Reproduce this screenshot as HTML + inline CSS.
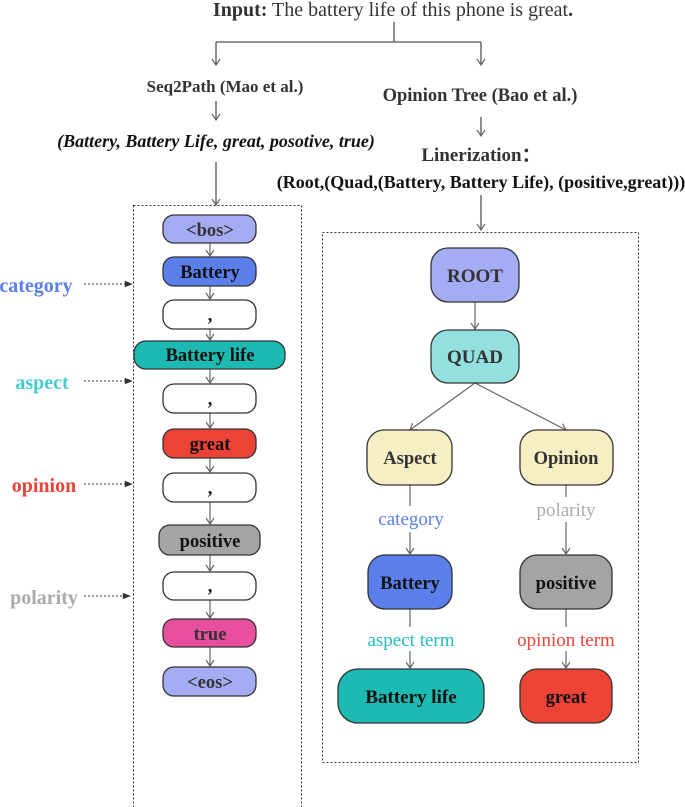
<!DOCTYPE html>
<html><head><meta charset="utf-8"><style>body{margin:0;background:#fff}svg{display:block}text{font-family:"Liberation Serif",serif}</style></head><body>
<svg width="685" height="807" viewBox="0 0 685 807" xmlns="http://www.w3.org/2000/svg">
<defs>
<marker id="v" viewBox="0 0 10 10" refX="9" refY="5" markerWidth="10" markerHeight="10" orient="auto" markerUnits="userSpaceOnUse"><path d="M3,1 L9,5 L3,9" fill="none" stroke="#666" stroke-width="1.2"/></marker>
<marker id="t" viewBox="0 0 10 10" refX="9" refY="5" markerWidth="10" markerHeight="8" orient="auto" markerUnits="userSpaceOnUse"><path d="M0,1 L10,5 L0,9z" fill="#333"/></marker>
</defs>
<g font-weight="bold" fill="#333" text-anchor="middle">
<text x="393" y="16" font-size="20" font-weight="normal"><tspan font-weight="bold">Input:</tspan> The battery life of this phone is great<tspan font-weight="bold">.</tspan></text>
<text x="225" y="92" font-size="17">Seq2Path (Mao et al.)</text>
<text x="480" y="101" font-size="18.5">Opinion Tree (Bao et al.)</text>
<text x="216" y="147" font-size="18" font-style="italic" fill="#111">(Battery, Battery Life, great, posotive, true)</text>
<text x="481" y="161" font-size="19">Linerization：</text>
<text x="481" y="188" font-size="18" fill="#111">(Root,(Quad,(Battery, Battery Life), (positive,great)))</text>
</g>
<g stroke="#555" stroke-width="1.3" fill="none">
<path d="M394,22 V42 M216,42 H481"/>
<path d="M216,42 V65" marker-end="url(#v)"/>
<path d="M481,42 V65" marker-end="url(#v)"/>
<path d="M216,101 V120" marker-end="url(#v)"/>
<path d="M481,117 V136" marker-end="url(#v)"/>
<path d="M216,162 V205" marker-end="url(#v)"/>
<path d="M481,195 V230" marker-end="url(#v)"/>
</g>
<rect x="133.5" y="205.5" width="168" height="605" fill="none" stroke="#333" stroke-dasharray="2,2"/>
<rect x="322.5" y="232.5" width="316" height="530" fill="none" stroke="#333" stroke-dasharray="2,2"/>
<g stroke="#666" stroke-width="1.2" fill="none">
<path d="M210,243 V256" marker-end="url(#v)"/>
<path d="M210,286 V299" marker-end="url(#v)"/>
<path d="M210,329 V340" marker-end="url(#v)"/>
<path d="M210,369 V383" marker-end="url(#v)"/>
<path d="M210,413 V428" marker-end="url(#v)"/>
<path d="M210,458 V472" marker-end="url(#v)"/>
<path d="M210,502 V524" marker-end="url(#v)"/>
<path d="M210,555 V571" marker-end="url(#v)"/>
<path d="M210,600 V618" marker-end="url(#v)"/>
<path d="M210,647 V666" marker-end="url(#v)"/>
<path d="M475,302 V329" marker-end="url(#v)"/>
<path d="M475,383 L410,430" marker-end="url(#v)"/>
<path d="M475,383 L566,430" marker-end="url(#v)"/>
<path d="M410,485 V506 M410,532 V554" marker-end="url(#v)"/>
<path d="M566,485 V497 M566,522 V554" marker-end="url(#v)"/>
<path d="M410,609 V627 M410,651 V668" marker-end="url(#v)"/>
<path d="M566,609 V627 M566,651 V668" marker-end="url(#v)"/>
</g>
<g stroke="#333" stroke-width="1" stroke-dasharray="2,2" fill="none">
<path d="M84,284 H132" marker-end="url(#t)"/>
<path d="M84,381 H132" marker-end="url(#t)"/>
<path d="M84,484 H132" marker-end="url(#t)"/>
<path d="M84,596 H130" marker-end="url(#t)"/>
</g>
<g stroke="#333" stroke-width="1.3">
<rect x="163" y="215" width="93" height="28" rx="11" fill="#a4acf4"/>
<rect x="163" y="257" width="93" height="29" rx="11" fill="#5a7fea"/>
<rect x="163" y="300" width="93" height="29" rx="11" fill="#fff"/>
<rect x="134" y="341" width="151" height="28" rx="12" fill="#1cbab2"/>
<rect x="163" y="384" width="93" height="29" rx="11" fill="#fff"/>
<rect x="163" y="429" width="93" height="29" rx="11" fill="#ec4336"/>
<rect x="163" y="473" width="93" height="29" rx="11" fill="#fff"/>
<rect x="159" y="525" width="101" height="30" rx="11" fill="#a4a4a4"/>
<rect x="163" y="572" width="93" height="28" rx="11" fill="#fff"/>
<rect x="163" y="619" width="93" height="28" rx="11" fill="#e84f9e"/>
<rect x="163" y="667" width="93" height="29" rx="11" fill="#a4acf4"/>
<rect x="431" y="248" width="88" height="54" rx="17" fill="#a4acf4"/>
<rect x="431" y="330" width="88" height="53" rx="17" fill="#93e0e0"/>
<rect x="367" y="430" width="85" height="55" rx="17" fill="#f6efc3"/>
<rect x="520" y="430" width="93" height="55" rx="17" fill="#f6efc3"/>
<rect x="368" y="555" width="84" height="54" rx="17" fill="#5a7fea"/>
<rect x="520" y="555" width="92" height="54" rx="17" fill="#a4a4a4"/>
<rect x="338" y="669" width="146" height="54" rx="20" fill="#1cbab2"/>
<rect x="520" y="669" width="92" height="54" rx="17" fill="#ec4336"/>
</g>
<g font-weight="bold" font-size="18.5" fill="#111" text-anchor="middle">
<text x="210" y="236" fill="#333">&lt;bos&gt;</text>
<text x="210" y="278">Battery</text>
<text x="210" y="321">,</text>
<text x="210" y="361">Battery life</text>
<text x="210" y="405">,</text>
<text x="210" y="450">great</text>
<text x="210" y="494">,</text>
<text x="210" y="547">positive</text>
<text x="210" y="592">,</text>
<text x="210" y="640" fill="#333">true</text>
<text x="210" y="688" fill="#333">&lt;eos&gt;</text>
<text x="475" y="282" fill="#333" font-size="19">ROOT</text>
<text x="475" y="363" fill="#333" font-size="19">QUAD</text>
<text x="410" y="464" fill="#333">Aspect</text>
<text x="566" y="464" fill="#333">Opinion</text>
<text x="410" y="589">Battery</text>
<text x="566" y="589">positive</text>
<text x="411" y="703" font-size="19">Battery life</text>
<text x="566" y="703">great</text>
<text x="36" y="292" fill="#5a7fea" font-size="20">category</text>
<text x="42" y="389" fill="#44cccc" font-size="20">aspect</text>
<text x="44" y="492" fill="#ec4336" font-size="20">opinion</text>
<text x="44" y="604" fill="#aaa" font-size="20">polarity</text>
</g>
<g font-size="19" text-anchor="middle">
<text x="411" y="525" fill="#5a7fea">category</text>
<text x="566" y="516" fill="#aaa">polarity</text>
<text x="411" y="646" fill="#22bbbb">aspect term</text>
<text x="566" y="646" fill="#ec4336">opinion term</text>
</g>
</svg>
</body></html>
